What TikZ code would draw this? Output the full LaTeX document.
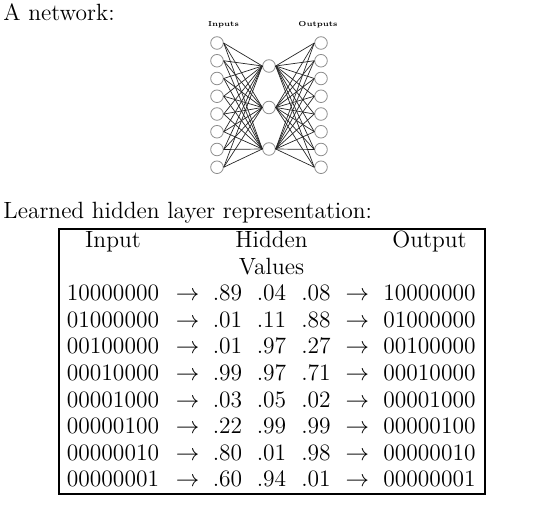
\RequirePackage{fix-cm}
\documentclass[tikz,border=0pt]{standalone}
\begin{document}
\begin{tikzpicture}[x=0.5pt,y=-0.5pt,
  neuron/.style={circle,draw=black!45,line width=0.4pt,minimum size=6.3pt,inner sep=0pt},
  wire/.style={draw=black!85,line width=0.35pt},
  txt/.style={inner sep=0pt,font=\fontsize{11.75}{14}\selectfont},
  cell/.style={txt,anchor=base},
  layerlab/.style={inner sep=0pt,font=\fontsize{3.6}{4}\selectfont\bfseries},
  tablebox/.style={draw,line width=0.6pt}]
\useasboundingbox (0,0) rectangle (548,518);
\node[txt,anchor=base west] (t1) at (3,20.5) {A network:};
\node[layerlab] (li) at (223.5,25) {Inputs};
\node[layerlab] (lo) at (318,25) {Outputs};
\foreach \i in {1,...,8} {
  \node[neuron] (in\i) at (217,{43+17.75*(\i-1)}) {};
  \node[neuron] (out\i) at (321,{43+17.75*(\i-1)}) {};
}
\foreach \j/\yh in {1/66,2/107.5,3/149} \node[neuron] (h\j) at (269,\yh) {};
\foreach \i in {1,...,8} \foreach \j in {1,2,3} {
  \draw[wire] (in\i.east) -- (h\j.west);
  \draw[wire] (h\j.east) -- (out\i.west);
}
\node[txt,anchor=base west] (t2) at (3,218.5) {Learned hidden layer representation:};
\draw[tablebox] (59,229) rectangle (485,494);
\node[cell] (hin) at (113,247.6) {Input};
\node[cell] (hhid) at (271.5,247.6) {Hidden};
\node[cell] (hout) at (429.5,247.6) {Output};
\node[cell] (hval) at (271.5,274.2) {Values};
\foreach \k/\ia/\va/\vb/\vc in {1/10000000/.89/.04/.08,2/01000000/.01/.11/.88,3/00100000/.01/.97/.27,4/00010000/.99/.97/.71,5/00001000/.03/.05/.02,6/00000100/.22/.99/.99,7/00000010/.80/.01/.98,8/00000001/.60/.94/.01} {
  \pgfmathsetmacro\yy{300.8+26.6*(\k-1)}
  \node[cell] (ri\k) at (113,\yy) {\ia};
  \node[cell] (ra\k) at (187.5,\yy) {$\rightarrow$};
  \node[cell] (rv\k a) at (227.5,\yy) {\va};
  \node[cell] (rv\k b) at (271.5,\yy) {\vb};
  \node[cell] (rv\k c) at (316,\yy) {\vc};
  \node[cell] (rb\k) at (357.5,\yy) {$\rightarrow$};
  \node[cell] (ro\k) at (429.5,\yy) {\ia};
}
\end{tikzpicture}
\end{document}
